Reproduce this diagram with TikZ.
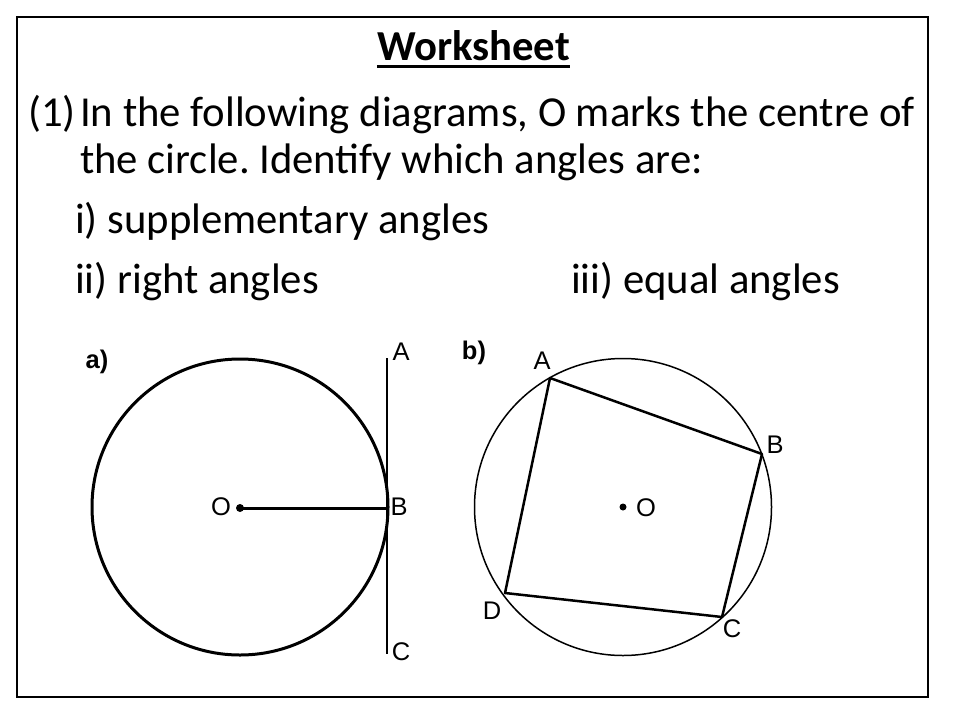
\documentclass[tikz,border=0pt]{standalone}
\usepackage{fontspec}
\setmainfont{Carlito}
\newfontfamily\lblfont{Liberation Sans}
\frenchspacing
\begin{document}
\begin{tikzpicture}[x=1pt,y=-1pt,
  body/.style={anchor=base west,inner sep=0pt,font=\fontsize{42.7}{51}\selectfont},
  lbl/.style={inner sep=0pt,font=\lblfont\fontsize{25.5}{30}\selectfont},
  boldlbl/.style={inner sep=0pt,font=\lblfont\bfseries\fontsize{25.5}{30}\selectfont},
  thickline/.style={line width=3pt},
  quadline/.style={line width=2.5pt,line join=round}]
\useasboundingbox (0,0) rectangle (960,720);
\fill[white] (0,0) rectangle (960,720);
\draw[line width=1.2pt] (17,17) rectangle (928,697);
% text
\node[anchor=base,inner sep=0pt,font=\bfseries\fontsize{42.7}{51}\selectfont] (title) at (473.5,60) {Worksheet};
\draw[line width=2.8pt] ([yshift=-6.7pt]title.base west) -- ([yshift=-6.7pt]title.base east);
\node[body] (n1) at (28,126) {(1)};
\node[body] (l1) at (80,126) {In the following diagrams, O marks the centre of};
\node[body] (l2) at (80,173) {the circle. Identify which angles are:};
\node[body] (l3) at (75,233) {i) supplementary angles};
\node[body] (l4) at (75,293) {ii) right angles};
\node[body] (l5) at (571,293) {iii) equal angles};
% diagram a
\coordinate (Oa) at (240,507);
\coordinate (Ta) at (387,358);
\coordinate (Ba) at (387,508);
\coordinate (Ca) at (387,654);
\draw[thickline] (Oa) circle[radius=148];
\draw[line width=2pt] (Ta) -- (Ca);
\draw[thickline] (240,508) -- (Ba);
\fill (240,508) circle[radius=4];
\node[boldlbl] (la) at (97,362) {a)};
\node[lbl] (lOa) at (221,507) {O};
\node[lbl] (lAa) at (401,352) {A};
\node[lbl] (lBa) at (399,507) {B};
\node[lbl] (lCa) at (401,652) {C};
% diagram b
\coordinate (Ob) at (623,507);
\coordinate (A) at (550,378);
\coordinate (B) at (762,454);
\coordinate (C) at (722,617);
\coordinate (D) at (505,593);
\draw[line width=1.5pt] (Ob) circle[radius=148.5];
\draw[quadline] (A) -- (B) -- (C) -- (D) -- cycle;
\fill (Ob) circle[radius=3.5];
\node[boldlbl] (lb) at (474,353) {b)};
\node[lbl] (lOb) at (646,508) {O};
\node[lbl] (lA) at (542,361) {A};
\node[lbl] (lB) at (775,445) {B};
\node[lbl] (lC) at (732,629) {C};
\node[lbl] (lD) at (492,611) {D};
\end{tikzpicture}
\end{document}
